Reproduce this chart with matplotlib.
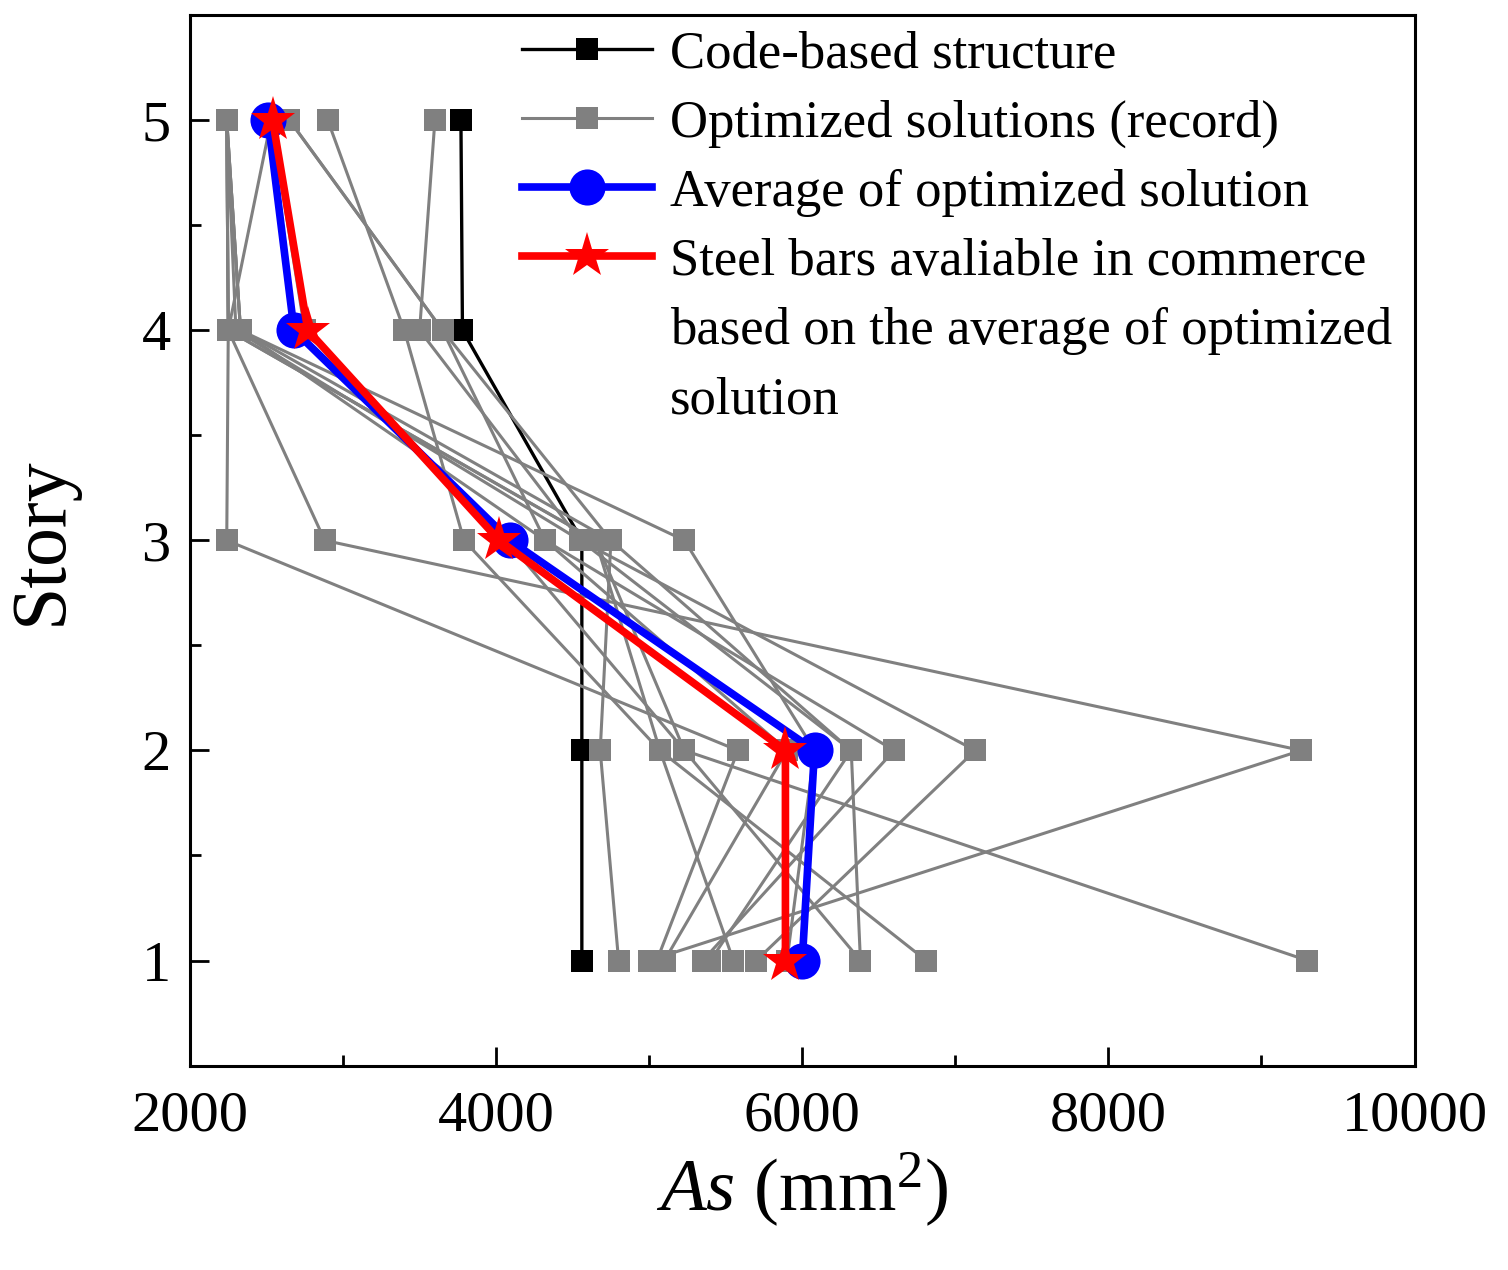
"""
Story-wise steel area: code-based vs optimized solutions
"""

import matplotlib
matplotlib.use('Agg')
import matplotlib.pyplot as plt
from matplotlib.lines import Line2D
from matplotlib.ticker import MultipleLocator

plt.rcParams['font.family'] = ['Liberation Serif', 'DejaVu Serif']
plt.rcParams['mathtext.fontset'] = 'custom'
plt.rcParams['mathtext.rm'] = 'Liberation Serif'
plt.rcParams['mathtext.it'] = 'Liberation Serif:italic'

# Data (story 5 -> 1)
stories = [5, 4, 3, 2, 1]
code_based = [3770, 3780, 4560, 4560, 4560]
avg_opt = [2510, 2680, 4090, 6080, 6000]
commerce = [2540, 2770, 4020, 5890, 5890]

# Optimized solutions (records), one list per record, story 5 -> 1
rec01 = [2240, 2250, 2240, 5580, 5050]
rec02 = [2240, 2250, 2880, 9260, 5000]
rec03 = [2240, 2300, 4550, 6320, 6380]
rec04 = [2240, 2330, 4320, 6600, 5350]
rec05 = [2240, 2330, 5230, 6080, 5900]
rec06 = [2530, 2750, 4070, 5230, 9300]
rec07 = [2650, 3650, 4750, 4680, 4800]
rec08 = [2900, 3400, 3790, 5070, 5550]
rec09 = [3600, 3500, 4550, 7130, 5700]
rec10 = [2530, 2250, 4650, 5070, 6810]
rec11 = [2240, 2330, 4750, 6320, 5400]
rec12 = [2650, 3650, 4320, 5900, 5100]
rec13 = [2240, 2250, 4650, 5230, 6380]
records = [rec01, rec02, rec03, rec04, rec05, rec06, rec07,
           rec08, rec09, rec10, rec11, rec12, rec13]

fig = plt.figure(figsize=(15.08, 12.7), dpi=100)
ax = fig.add_axes([0.126, 0.161, 0.812, 0.827])

for rec in records:
    ax.plot(rec, stories, color='#808080', lw=2.2, marker='s',
            markersize=16, markeredgewidth=0, zorder=2)

# code-based sits under the gray records (partly hidden at story 2-3)
ax.plot(code_based, stories, color='black', lw=2.4, marker='s',
        markersize=16, markeredgewidth=0, zorder=1.5)
ax.plot(avg_opt, stories, color='#0000ff', lw=5.5, marker='o',
        markersize=26, markeredgewidth=0, zorder=4)
ax.plot(commerce, stories, color='#ff0000', lw=5.5, marker='*',
        markersize=34, markeredgewidth=0, zorder=5)

ax.set_xlim(2000, 10000)
ax.set_ylim(0.5, 5.5)
ax.xaxis.set_major_locator(MultipleLocator(2000))
ax.xaxis.set_minor_locator(MultipleLocator(1000))
ax.yaxis.set_major_locator(MultipleLocator(1))
ax.yaxis.set_minor_locator(MultipleLocator(0.5))
ax.tick_params(which='both', direction='in', top=False, right=False,
               width=2, labelsize=42, pad=14)
ax.tick_params(axis='x', pad=18)
ax.tick_params(which='major', length=14)
ax.tick_params(which='minor', length=8)
for sp in ax.spines.values():
    sp.set_linewidth(2.2)

ax.set_xlabel(r'$\it{As}$ (mm$^2$)', fontsize=54, labelpad=6)
ax.set_ylabel('Story', fontsize=56, labelpad=46)

# Legend: last entry wraps over three rows, extra rows get empty handles
handles = [
    Line2D([], [], color='black', lw=2.4, marker='s', markersize=16, markeredgewidth=0),
    Line2D([], [], color='#808080', lw=2.2, marker='s', markersize=16, markeredgewidth=0),
    Line2D([], [], color='#0000ff', lw=5.5, marker='o', markersize=26, markeredgewidth=0),
    Line2D([], [], color='#ff0000', lw=5.5, marker='*', markersize=34, markeredgewidth=0),
    Line2D([], [], linestyle='none'),
    Line2D([], [], linestyle='none'),
]
labels = ['Code-based structure',
          'Optimized solutions (record)',
          'Average of optimized solution',
          'Steel bars avaliable in commerce',
          'based on the average of optimized',
          'solution']
ax.legend(handles, labels, loc='upper right', bbox_to_anchor=(1.012, 1.021),
          frameon=False, fontsize=38, handlelength=2.45, handletextpad=0.35,
          labelspacing=0.40, borderpad=0.2)

plt.savefig('out.png', dpi=100, facecolor='white')
plt.close()
